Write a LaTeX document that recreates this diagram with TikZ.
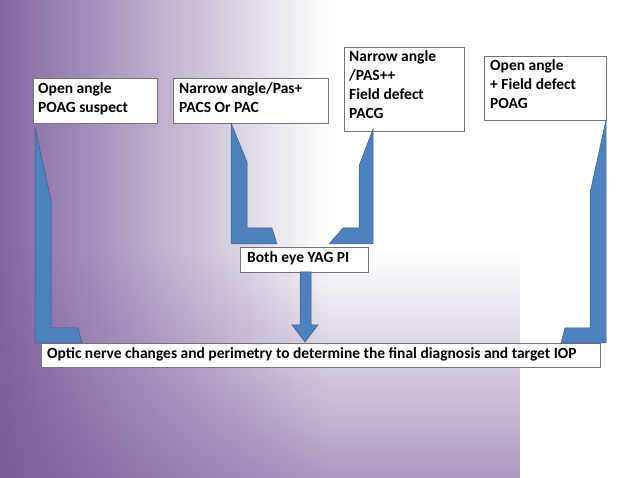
\documentclass[tikz,border=0pt]{standalone}
\usepackage{fontspec}
\setmainfont{Carlito}
\usetikzlibrary{fadings}
\definecolor{pA}{RGB}{118,86,152}
\definecolor{af}{RGB}{79,129,189}
\definecolor{ad}{RGB}{56,93,138}
\begin{document}
\begin{tikzpicture}[x=1pt,y=-1pt,
  box/.style={draw=black!55,fill=white,line width=0.6pt,inner sep=0pt},
  lbl/.style={font=\bfseries\fontsize{15.5}{19}\selectfont,align=left,anchor=north west,inner sep=0pt},
  arr/.style={fill=af,draw=ad,line width=0.5pt}]
\useasboundingbox (0,0) rectangle (638,478);
\fill[white] (0,0) rectangle (638,478);
\fill[pA,path fading=east,opacity=0.9] (0,0) rectangle (330,478);
\fill[pA,path fading=north,opacity=0.6] (0,250) rectangle (520,478);
% boxes
\draw[box] (33,78) rectangle (157,123); \node[lbl] (t1) at (38,82) {Open angle\\POAG suspect};
\draw[box] (173,78) rectangle (328,123); \node[lbl] (t2) at (179,82) {Narrow angle/Pas+\\PACS Or PAC};
\draw[box] (344,47) rectangle (464,131); \node[lbl] (t3) at (349,50) {Narrow angle\\/PAS++\\Field defect\\PACG};
\draw[box] (484,56) rectangle (606,120); \node[lbl] (t4) at (490,59) {Open angle\\+ Field defect\\POAG};
\draw[box] (240,247) rectangle (368,272); \node[lbl] (t5) at (247,251) {Both eye YAG PI};
\draw[box] (41,343) rectangle (600,367); \node[lbl] (t6) at (47,347) {Optic nerve changes and perimetry to determine the final diagnosis and target IOP};
% arrows
\draw[arr] (35,128) -- (51,200) -- (51,328) -- (78,328) -- (82,343) -- (35,343) -- cycle;
\draw[arr] (231,123) -- (247,162) -- (247,228) -- (272,228) -- (277,244) -- (231,244) -- cycle;
\draw[arr] (373,129) -- (359,166) -- (359,228) -- (343,228) -- (329,244) -- (373,244) -- cycle;
\draw[arr] (606,120) -- (590,193) -- (590,328) -- (565,328) -- (561,343) -- (606,343) -- cycle;
\draw[arr] (300,272) -- (311,272) -- (311,325) -- (318,325) -- (305,342) -- (292,325) -- (300,325) -- cycle;
\end{tikzpicture}
\end{document}
